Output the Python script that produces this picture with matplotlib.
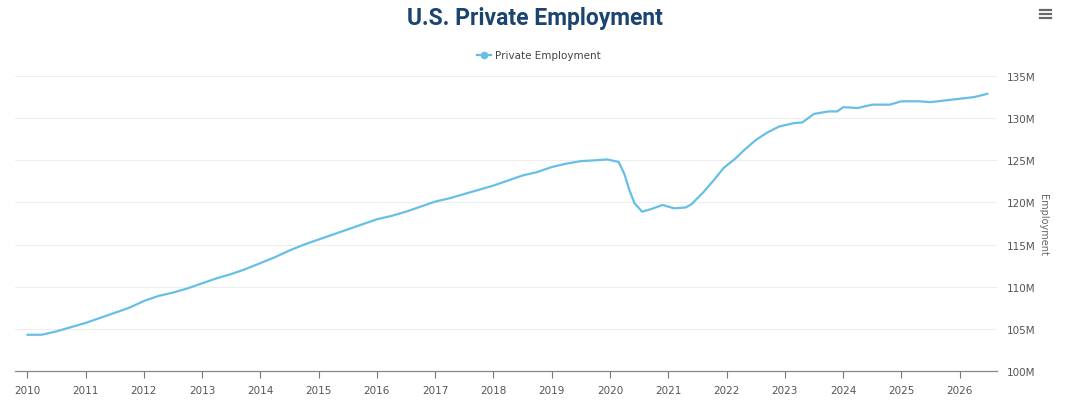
import numpy as np
import matplotlib.pyplot as plt
from matplotlib.lines import Line2D

# Private employment (millions) at fractional years
years = [2010.0, 2010.25, 2010.5, 2010.75, 2011.0, 2011.25, 2011.5, 2011.75,
         2012.0, 2012.25, 2012.5, 2012.75, 2013.0, 2013.25, 2013.5, 2013.75,
         2014.0, 2014.25, 2014.5, 2014.75, 2015.0, 2015.25, 2015.5, 2015.75,
         2016.0, 2016.25, 2016.5, 2016.75, 2017.0, 2017.25, 2017.5, 2017.75,
         2018.0, 2018.25, 2018.5, 2018.75, 2019.0, 2019.25, 2019.5, 2019.75,
         2019.95, 2020.15, 2020.25, 2020.33, 2020.42, 2020.55, 2020.7, 2020.9,
         2021.1, 2021.3, 2021.4, 2021.6, 2021.8, 2021.95, 2022.15, 2022.3,
         2022.5, 2022.7, 2022.9, 2023.15, 2023.3, 2023.5, 2023.75, 2023.9,
         2024.0, 2024.25, 2024.5, 2024.8, 2025.0, 2025.3, 2025.5, 2025.75,
         2026.0, 2026.25, 2026.48]
employment = [104.3, 104.3, 104.7, 105.2, 105.7, 106.3, 106.9, 107.5,
              108.3, 108.9, 109.3, 109.8, 110.4, 111.0, 111.5, 112.1,
              112.8, 113.5, 114.3, 115.0, 115.6, 116.2, 116.8, 117.4,
              118.0, 118.4, 118.9, 119.5, 120.1, 120.5, 121.0, 121.5,
              122.0, 122.6, 123.2, 123.6, 124.2, 124.6, 124.9, 125.0,
              125.1, 124.8, 123.3, 121.5, 119.9, 118.9, 119.2, 119.7,
              119.3, 119.4, 119.8, 121.2, 122.8, 124.1, 125.2, 126.2,
              127.4, 128.3, 129.0, 129.4, 129.5, 130.5, 130.8, 130.8,
              131.3, 131.2, 131.6, 131.6, 132.0, 132.0, 131.9, 132.1,
              132.3, 132.5, 132.9]

tick_years = list(range(2010, 2027))
y_ticks = [100, 105, 110, 115, 120, 125, 130, 135]

fig = plt.figure(figsize=(10.8, 4.06), dpi=100)
ax = fig.add_axes([15 / 1080, 1 - 372 / 406, 982 / 1080, 295 / 406])

ax.plot(years, employment, color="#66bfe4", lw=1.6, solid_capstyle="round")

ax.set_xlim(2009.79, 2026.64)
ax.set_ylim(100, 135)

ax.set_xticks(tick_years)
ax.set_xticklabels([str(t) for t in tick_years], fontsize=7.5, color="#555555")
ax.tick_params(axis="x", length=5, width=0.8, color="#777777", pad=5)

ax.yaxis.tick_right()
ax.set_yticks(y_ticks)
ax.set_yticklabels([f"{v}M" for v in y_ticks], fontsize=7.5, color="#555555")
ax.tick_params(axis="y", length=0, pad=7)
ax.yaxis.set_label_position("right")
ax.set_ylabel("Employment", fontsize=7, color="#666666", rotation=270, labelpad=9)

ax.grid(axis="y", color="#eeeeee", lw=0.8)
for s in ["top", "left", "right"]:
    ax.spines[s].set_visible(False)
ax.spines["bottom"].set_color("#888888")
ax.spines["bottom"].set_linewidth(0.9)

# Title
fig.text(535 / 1080, 1 - 19 / 406, "U.S. Private Employment", ha="center", va="center",
         fontsize=16.5, fontweight="bold", color="#1c4470", family="Roboto")

# Legend
leg_y = 1 - 56 / 406
fig.add_artist(Line2D([477 / 1080, 491 / 1080], [leg_y, leg_y], color="#66bfe4", lw=1.6,
                      transform=fig.transFigure))
fig.add_artist(Line2D([484 / 1080], [leg_y], marker="o", markersize=4.5, color="#66bfe4",
                      transform=fig.transFigure))
fig.text(495 / 1080, leg_y, "Private Employment", ha="left", va="center",
         fontsize=7.5, color="#444444")

# Menu icon
for dy in [11, 15, 19]:
    yy = 1 - dy / 406
    fig.add_artist(Line2D([1040 / 1080, 1051 / 1080], [yy, yy], color="#666666", lw=1.6,
                          transform=fig.transFigure))

fig.savefig("out.png", dpi=100)
